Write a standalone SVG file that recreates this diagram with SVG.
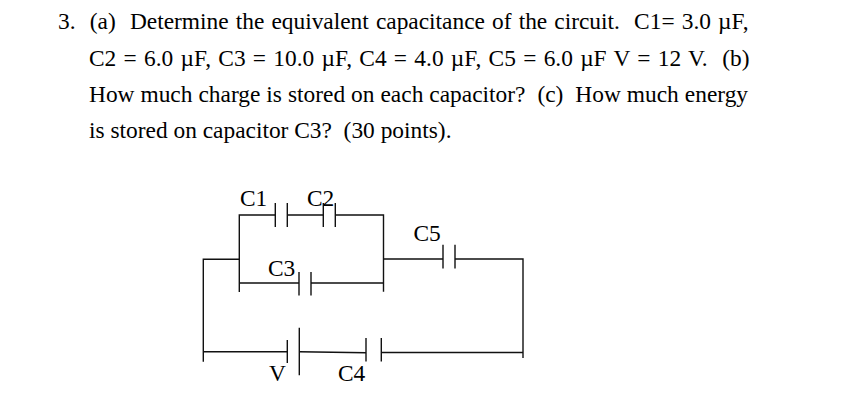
<svg xmlns="http://www.w3.org/2000/svg" width="855" height="417" viewBox="0 0 855 417">
<style>
text{font-family:"Liberation Serif","Times New Roman",serif;fill:#000;font-size:23.4px}
.w{stroke:#111;stroke-width:1.4;fill:none}
</style>
<rect width="855" height="417" fill="#fff"/>
<g id="question">
<text x="58" y="29" word-spacing="1.25" xml:space="preserve">3.  (a)  Determine the equivalent capacitance of the circuit.  C1= 3.0 µF,</text>
<text x="89" y="66" word-spacing="1.43" xml:space="preserve">C2 = 6.0 µF, C3 = 10.0 µF, C4 = 4.0 µF, C5 = 6.0 µF V = 12 V.  (b)</text>
<text x="89" y="102" word-spacing="0.15" xml:space="preserve">How much charge is stored on each capacitor?  (c)  How much energy</text>
<text x="89" y="138" xml:space="preserve">is stored on capacitor C3?  (30 points).</text>
</g>
<g id="connectors" class="w">
<path d="M203.300 361.700V259.300H239.300"/>
<path d="M239.300 292V215H275.300M287.300 215H323.300M335.300 215H383.500V291.700"/>
<path d="M239.300 283H299M311 283H383.500"/>
<path d="M383.500 259H443M455 259H523V358"/>
<path d="M203.300 351.700H287.300M299.300 351.700L366 352.700M381.300 352.500H523"/>
</g>
<g id="C1"><path class="w" d="M275.300 203V227M287.300 203V227"/><text x="240" y="206">C1</text></g>
<g id="C2"><path class="w" d="M323.300 203V227M335.300 203V227"/><text x="307" y="206">C2</text></g>
<g id="C3"><path class="w" d="M299 272V295.500M311 272V295.500"/><text x="268" y="276">C3</text></g>
<g id="C4"><path class="w" d="M366 338V361.500M381.300 338V361.500"/><text x="338" y="381">C4</text></g>
<g id="C5"><path class="w" d="M443 244.700V268.500M455 244.700V268.500"/><text x="413.500" y="241">C5</text></g>
<g id="V"><path class="w" d="M287.300 340V363M299.300 327.700V375.300"/><text x="269" y="381">V</text></g>
</svg>
